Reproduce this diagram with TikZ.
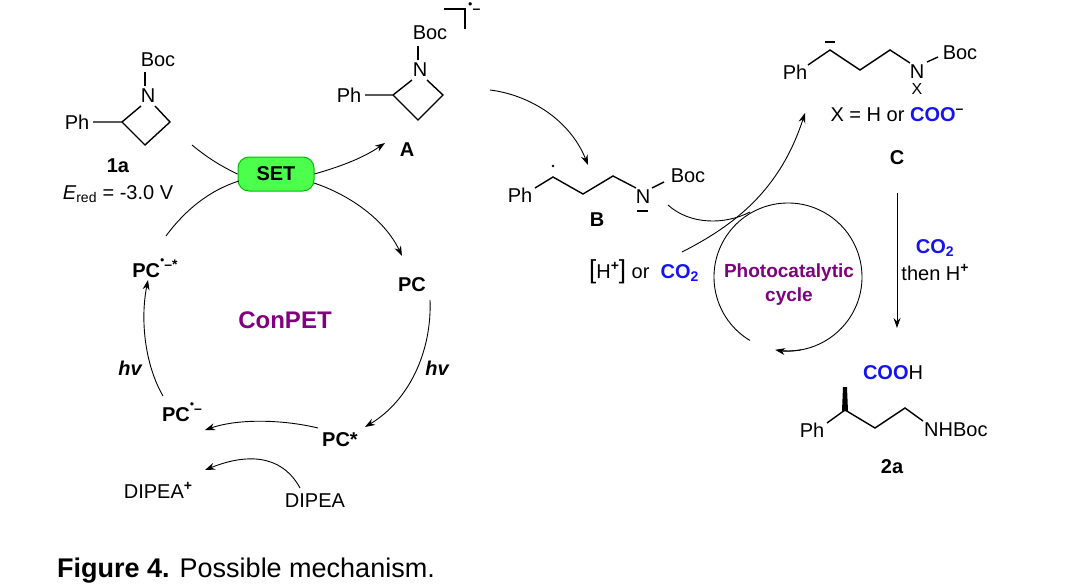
\documentclass[tikz,border=0pt]{standalone}
\usepackage{fontspec}
\setmainfont{Liberation Sans}
\usetikzlibrary{arrows.meta}
\definecolor{pblue}{RGB}{20,20,240}
\definecolor{ppurple}{RGB}{128,0,128}
\newcommand{\rdot}{\raisebox{0.9ex}{\scalebox{0.6}{$\bullet$}}}
\newcommand{\sups}[1]{\raisebox{0.75ex}{\fontsize{14}{14}\selectfont\bfseries #1}}
\begin{document}
\begin{tikzpicture}[x=1pt,y=1pt,yscale=-1,
  t/.style={inner sep=0pt,font=\fontsize{20}{23}\selectfont},
  b/.style={t,font=\fontsize{20}{23}\selectfont\bfseries},
  bond/.style={line width=1.4pt,line join=miter},
  arr/.style={line width=0.9pt,-{Stealth[length=10pt,width=7pt]}},
  ln/.style={line width=0.9pt}]
\useasboundingbox (0,0) rectangle (1080,586);
% 1a
\node[t] (ph1) at (77,122) {Ph};
\node[t] (n1) at (148,96) {N};
\node[t] (boc1) at (158,60) {Boc};
\draw[bond] (93,122) -- (122,122) -- (141,106);
\draw[bond] (155,106) -- (170,122) -- (145,145) -- (122,122);
\draw[bond] (145,86) -- (145,72);
\node[b] (l1a) at (118,166) {1a};
\node[t] (ered) at (118,194) {\textit{E}\textsubscript{red} = -3.0 V};
% A
\node[t] (phA) at (349,95) {Ph};
\node[t] (nA) at (420,70) {N};
\node[t] (bocA) at (430,33) {Boc};
\draw[bond] (365,95) -- (393,95) -- (412,80);
\draw[bond] (427,80) -- (443,95) -- (418,120) -- (393,95);
\draw[bond] (418,60) -- (418,46);
\draw[bond] (444,9) -- (465,9) -- (465,29);
\node[t,font=\fontsize{14}{14}\selectfont\bfseries,anchor=west] (radA) at (468,8) {\rdot–};
\node[b] (lA) at (407,150) {A};
% SET
\node[draw=green!75!black,fill=green!70,line width=1pt,rounded corners=11pt,minimum width=76pt,minimum height=34pt,b] (set) at (276,174) {SET};
% cycle
\node[b] (pcrs) at (155,268) {PC\sups{\rdot–*}};
\node[b] (pctop) at (412,285) {PC};
\node[b,text=ppurple,font=\fontsize{24}{26}\selectfont\bfseries] (conpet) at (285,320) {ConPET};
\node[b,font=\fontsize{20}{23}\selectfont\bfseries\itshape] (hv1) at (130,368) {hv};
\node[b,font=\fontsize{20}{23}\selectfont\bfseries\itshape] (hv2) at (437,368) {hv};
\node[b] (pcr) at (182,412) {PC\sups{\rdot–}};
\node[b] (pcs) at (340,440) {PC*};
\node[t] (dipp) at (158,490) {DIPEA\sups{+}};
\node[t] (dip) at (315,501) {DIPEA};
\draw[ln] (192,145) .. controls (210,160) and (225,168) .. (set.west);
\draw[arr] (set.east) .. controls (335,168) and (360,160) .. (385,143);
\draw[ln] (166,236) .. controls (185,210) and (210,190) .. (239,181);
\draw[arr] (314,183) .. controls (350,195) and (385,220) .. (402,256);
\draw[arr] (430,300) .. controls (432,350) and (410,400) .. (365,427);
\draw[arr] (318,428) .. controls (285,420) and (240,418) .. (205,430);
\draw[arr] (300,488) .. controls (285,460) and (255,450) .. (205,470);
\draw[arr] (163,396) .. controls (145,365) and (140,320) .. (148,280);
% A -> B
\draw[arr] (490,90) .. controls (530,95) and (570,120) .. (588,165);
% B
\node[t] (phB) at (520,195) {Ph};
\draw[bond] (535,188) -- (553,177) -- (583,194) -- (613,176) -- (636,188);
\fill (553,166) circle (1.3);
\node[t] (nB) at (643,197) {N};
\draw[bond] (637,211) -- (648,211);
\draw[bond] (652,188) -- (664,182);
\node[t] (bocB) at (688,176) {Boc};
\node[b] (lB) at (597,220) {B};
% photocatalytic
\coordinate (cc) at (788,277);
\draw[ln] (cc) ++(121:74) arc (121:458:74);
\draw[arr] (cc) ++(440:74) arc (440:460:74);
\node[b,text=ppurple,align=center,font=\fontsize{19}{24}\selectfont\bfseries] (pcl) at (789,285) {Photocatalytic\\cycle};
\draw[ln] (668,205) .. controls (690,225) and (725,225) .. (750,212);
\draw[arr] (682,252) .. controls (735,225) and (780,190) .. (805,113);
\node[t] (hco) at (644,272) {\fontsize{26}{26}\selectfont[\fontsize{20}{23}\selectfont H\sups{+}\fontsize{26}{26}\selectfont]\fontsize{20}{23}\selectfont\ or\ \ \textcolor{pblue}{\textbf{CO$_{\mathbf 2}$}}};
% C
\node[t] (phC) at (795,72) {Ph};
\draw[bond] (808,65) -- (830,50) -- (860,70) -- (890,50) -- (910,63);
\draw[bond] (825,42) -- (835,42);
\node[t] (nC) at (917,72) {N};
\draw[bond] (927,62) -- (938,57);
\node[t] (bocC) at (960,53) {Boc};
\node[t,font=\fontsize{16}{16}\selectfont] (xC) at (917,89) {X};
\node[t] (xeq) at (897,115) {X = H or \textcolor{pblue}{\textbf{COO}}\sups{–}};
\node[b] (lC) at (897,158) {C};
\draw[arr] (897,193) -- (897,328);
\node[t,align=center] (co2) at (935,260) {\textcolor{pblue}{\textbf{CO$_{\mathbf 2}$}}\\[4pt]then H\sups{+}};
% 2a
\node[t] (cooh) at (893,373) {\textcolor{pblue}{\textbf{COO}}H};
\fill (843,387) -- (847,387) -- (848,411) -- (842,411) -- cycle;
\node[t] (ph2) at (812,430) {Ph};
\draw[bond] (827,423) -- (845,410) -- (875,428) -- (905,408) -- (923,421);
\node[t,anchor=west] (nh) at (924,430) {NHBoc};
\node[b] (l2a) at (892,467) {2a};
% caption
\node[t,anchor=west,font=\fontsize{27}{30}\selectfont] (cap) at (57,571) {\textbf{Figure 4.} Possible mechanism.};
\end{tikzpicture}
\end{document}
